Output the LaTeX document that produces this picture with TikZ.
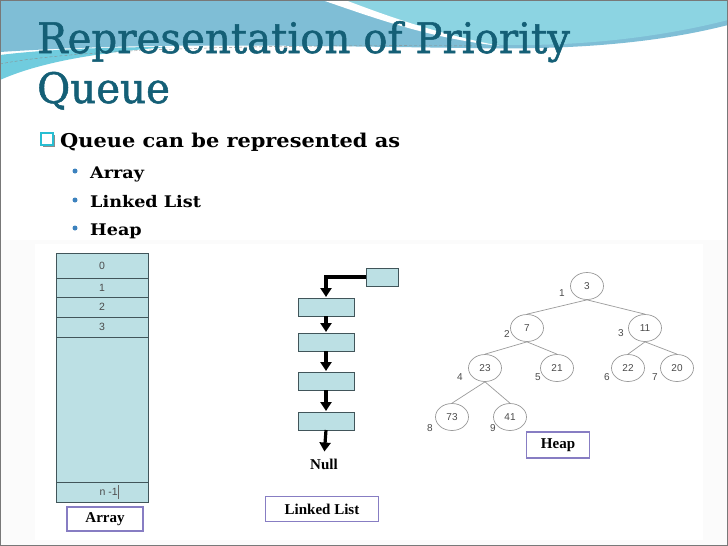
\documentclass[tikz,border=0pt]{standalone}
\usepackage{fontspec}
\setmainfont{DejaVu Serif}[FakeStretch=1.1]
\newfontfamily\titlefont{DejaVu Serif}[FakeStretch=0.96,FakeBold=1.2]
\newfontfamily\figfont{Liberation Serif}
\newfontfamily\numfont{Liberation Sans}
\usepackage{xcolor}
\definecolor{titleteal}{RGB}{20,95,118}
\definecolor{wavebl}{RGB}{127,190,214}
\definecolor{wavecy}{RGB}{140,212,226}
\definecolor{wavecy2}{RGB}{112,204,222}
\definecolor{bulletcy}{RGB}{40,190,210}
\definecolor{dotblue}{RGB}{60,130,190}
\definecolor{cellfill}{RGB}{188,224,228}
\definecolor{cellline}{RGB}{65,85,90}
\definecolor{numgray}{RGB}{75,75,75}
\definecolor{heapline}{RGB}{155,155,155}
\definecolor{capframe}{RGB}{135,125,195}
\definecolor{framegray}{RGB}{120,120,120}
\usetikzlibrary{arrows.meta,positioning,shapes.geometric}
\tikzset{
  arr_cell/.style={rectangle,draw=cellline,fill=cellfill,
    line width=0.9pt,minimum width=92pt,
    inner sep=0pt,outer sep=0pt,
    font=\numfont\fontsize{10.5}{12}\selectfont,text=numgray},
  ll_box/.style={rectangle,draw=cellline,fill=cellfill,
    line width=0.9pt,minimum width=56pt,minimum height=18pt,
    inner sep=0pt,outer sep=0pt},
  hp_node/.style={ellipse,draw=heapline,line width=0.7pt,
    minimum width=33pt,minimum height=27pt,inner sep=0pt,
    font=\numfont\fontsize{10}{12}\selectfont,text=numgray},
  hp_idx/.style={font=\numfont\fontsize{10}{12}\selectfont,text=numgray},
  cap_box/.style={rectangle,draw=capframe,line width=1.1pt,fill=white,
    inner sep=0pt,font=\figfont\bfseries\fontsize{15}{17}\selectfont},
  ll_arr/.style={-{Triangle[width=11pt,length=9pt]},line width=3.2pt,
    draw=black,shorten >=1pt},
  hp_edge/.style={draw=heapline,line width=0.7pt},
  sub_item/.style={anchor=base west,inner sep=0pt,
    font=\bfseries\fontsize{16}{18}\selectfont},
  sub_dot/.style={circle,fill=dotblue,inner sep=0pt,minimum size=5pt},
}

\begin{document}
\begin{tikzpicture}[x=1pt,y=-1pt]
  \useasboundingbox (0,0) rectangle (728,546);
  \fill[white] (0,0) rectangle (728,546);
  \fill[black!1.5] (0,240) rectangle (728,546);
  \fill[white] (35,244) rectangle (703,540);

  % title waves
  \fill[wavebl] (0,0) -- (728,0) -- (728,25)
    .. controls (650,45) and (560,50) .. (470,48)
    .. controls (300,46) and (150,42) .. (0,52) -- cycle;
  \fill[wavecy] (345,0) -- (728,0) -- (728,20)
    .. controls (650,40) and (560,48) .. (480,44)
    .. controls (430,30) and (380,15) .. (345,0) -- cycle;
  \fill[white] (322,0) .. controls (380,20) and (430,38) .. (500,46)
    .. controls (430,32) and (385,15) .. (345,0) -- cycle;
  \fill[wavecy2] (0,55) -- (0,80) .. controls (40,62) and (100,52) .. (170,47)
    .. controls (100,47) and (40,50) .. (0,55) -- cycle;
  \draw[black!45,densely dashed,line width=0.4pt]
    (0,64) .. controls (60,52) and (200,44) .. (480,46);

  \node (ttl1) [anchor=base west,inner sep=0pt,text=titleteal,
    font=\titlefont\fontsize{42}{48}\selectfont] at (37,53)
    {Representation of Priority};
  \node (ttl2) [anchor=base west,inner sep=0pt,text=titleteal,
    font=\titlefont\fontsize{42}{48}\selectfont] at (37,103) {Queue};

  % bullets
  \fill[black!45] (43,135) rectangle (55,147);
  \node (sq) [rectangle,draw=bulletcy,line width=1.4pt,fill=white,
    minimum size=12pt,inner sep=0pt] at (47,139) {};
  \node (head) [anchor=base west,inner sep=0pt,
    font=\bfseries\fontsize{19}{22}\selectfont] at (60,147)
    {Queue can be represented as};
  \node (d1) [sub_dot] at (75,171) {};
  \node (d2) [sub_dot] at (75,200) {};
  \node (d3) [sub_dot] at (75,228) {};
  \node (s1) [sub_item] at (90,178) {Array};
  \node (s2) [sub_item] at (90,207) {Linked List};
  \node (s3) [sub_item] at (90,235) {Heap};

  % array
  \node (a0) [arr_cell,minimum height=25pt,anchor=north] at (102,253) {0};
  \node (a1) [arr_cell,minimum height=19pt,below=0pt of a0] {1};
  \node (a2) [arr_cell,minimum height=20pt,below=0pt of a1] {2};
  \node (a3) [arr_cell,minimum height=20pt,below=0pt of a2] {3};
  \node (ag) [arr_cell,minimum height=145pt,below=0pt of a3] {};
  \node (an) [arr_cell,minimum height=20pt,below=0pt of ag]
    {\hspace{14pt}n -1\textcolor{black!60}{\rule[-4pt]{0.6pt}{14pt}}};
  \node (cap_a) [cap_box,minimum width=76pt,minimum height=24pt]
    at (105,519) {Array};

  % linked list
  \node (llh) [ll_box,minimum width=32pt] at (382,277) {};
  \node (ll1) [ll_box] at (326,307) {};
  \node (ll2) [ll_box,below=17pt of ll1] {};
  \node (ll3) [ll_box,below=21pt of ll2] {};
  \node (ll4) [ll_box,below=22pt of ll3] {};
  \node (null) [inner sep=1pt,
    font=\figfont\bfseries\fontsize{15}{17}\selectfont] at (324,464) {Null};
  \draw[ll_arr] (llh.west) -| (ll1.north);
  \draw[ll_arr] (ll1) -- (ll2);
  \draw[ll_arr] (ll2) -- (ll3);
  \draw[ll_arr] (ll3) -- (ll4);
  \draw[ll_arr,shorten >=6pt] (ll4.south) -- (null.north);
  \node (cap_l) [cap_box,minimum width=113pt,minimum height=25pt]
    at (322,509) {Linked List};

  % heap
  \node (h3)  [hp_node] at (587,286) {3};
  \node (h7)  [hp_node] at (527,328) {7};
  \node (h11) [hp_node] at (645,328) {11};
  \node (h23) [hp_node] at (485,368) {23};
  \node (h21) [hp_node] at (557,368) {21};
  \node (h22) [hp_node] at (628,368) {22};
  \node (h20) [hp_node] at (677,368) {20};
  \node (h73) [hp_node] at (452,417) {73};
  \node (h41) [hp_node] at (510,417) {41};
  \draw[hp_edge] (h3.south) -- (h7.north);
  \draw[hp_edge] (h3.south) -- (h11.north);
  \draw[hp_edge] (h7.south) -- (h23.north);
  \draw[hp_edge] (h7.south) -- (h21.north);
  \draw[hp_edge] (h11.south) -- (h22.north);
  \draw[hp_edge] (h11.south) -- (h20.north);
  \draw[hp_edge] (h23.south) -- (h73.north);
  \draw[hp_edge] (h23.south) -- (h41.north);
  \node (i1) [hp_idx] at (562,293) {1};
  \node (i2) [hp_idx] at (507,334) {2};
  \node (i3) [hp_idx] at (621,333) {3};
  \node (i4) [hp_idx] at (460,377) {4};
  \node (i5) [hp_idx] at (538,377) {5};
  \node (i6) [hp_idx] at (607,377) {6};
  \node (i7) [hp_idx] at (655,377) {7};
  \node (i8) [hp_idx] at (430,428) {8};
  \node (i9) [hp_idx] at (493,428) {9};
  \node (cap_h) [cap_box,minimum width=63pt,minimum height=26pt]
    at (558,445) {Heap};

  \draw[framegray,line width=1.2pt] (0.6,0.6) rectangle (727.4,545.4);
\end{tikzpicture}
\end{document}
